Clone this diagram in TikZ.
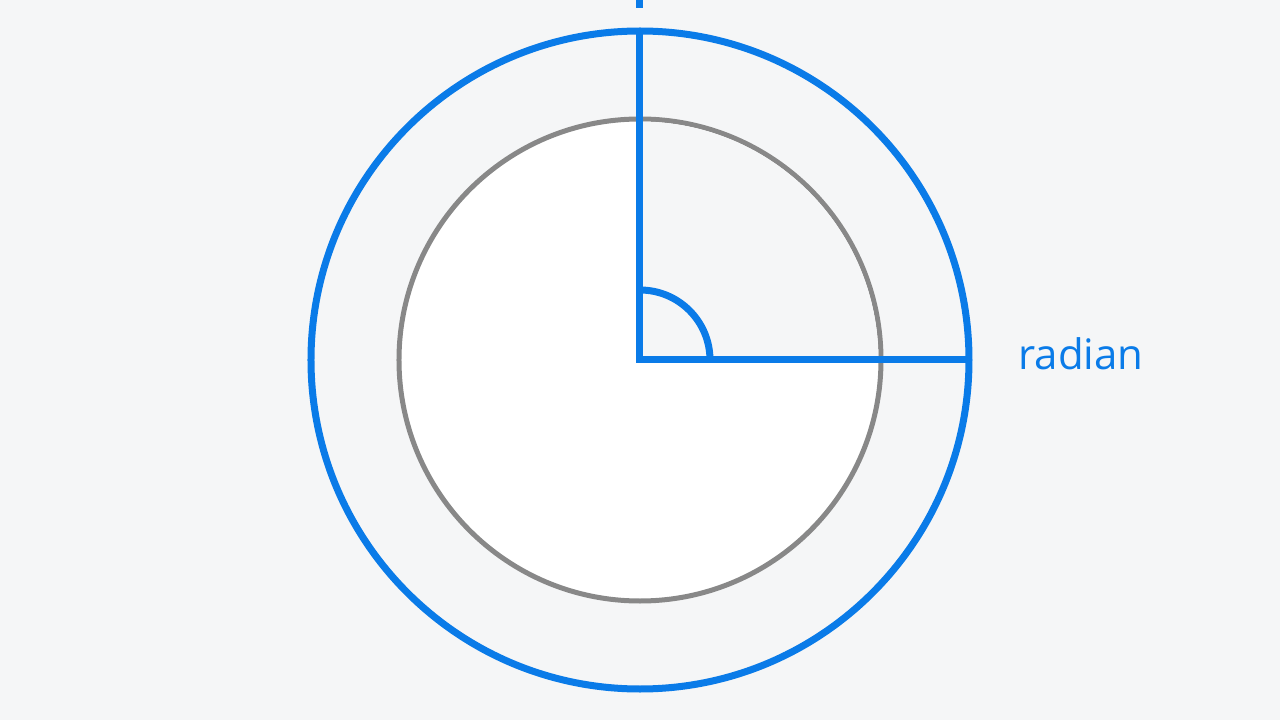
\documentclass[tikz,border=0pt]{standalone}
\usepackage{fontspec}
\setmainfont{Open Sans}
\usetikzlibrary{positioning}
\definecolor{bg}{HTML}{F5F6F7}
\definecolor{blau}{HTML}{0A7BE8}
\definecolor{grau}{HTML}{888888}
\def\R{329}
\def\r{241}
\begin{document}
\begin{tikzpicture}[x=1pt,y=1pt,line width=7pt,
	kreis/.style={draw=blau},
	innen/.style={draw=grau,line width=5pt,fill=white},
	strahl/.style={draw=blau}]
\fill[bg] (-640,-360) rectangle (640,360);
\useasboundingbox (-640,-360) rectangle (640,360);
\coordinate (M) at (0,0);
\coordinate (O) at (0,\R);
\coordinate (E) at (\R,0);
\coordinate (T1) at (0,360);
\coordinate (T2) at (0,352);
\draw[innen] (M) circle (\r);
\fill[bg] (M) -- (\r-2.5,0) arc (0:90:\r-2.5) -- cycle;
\draw[kreis] (M) circle (\R);
\draw[strahl] (O) -- (M) -- (E);
\draw[strahl] (70,0) arc (0:90:70);
\draw[strahl] (T1) -- (T2);
\node[anchor=base west,inner sep=0pt,text=blau,font=\fontsize{42}{50}\selectfont] (lbl) at (375,-10) {radian};
\end{tikzpicture}
\end{document}
